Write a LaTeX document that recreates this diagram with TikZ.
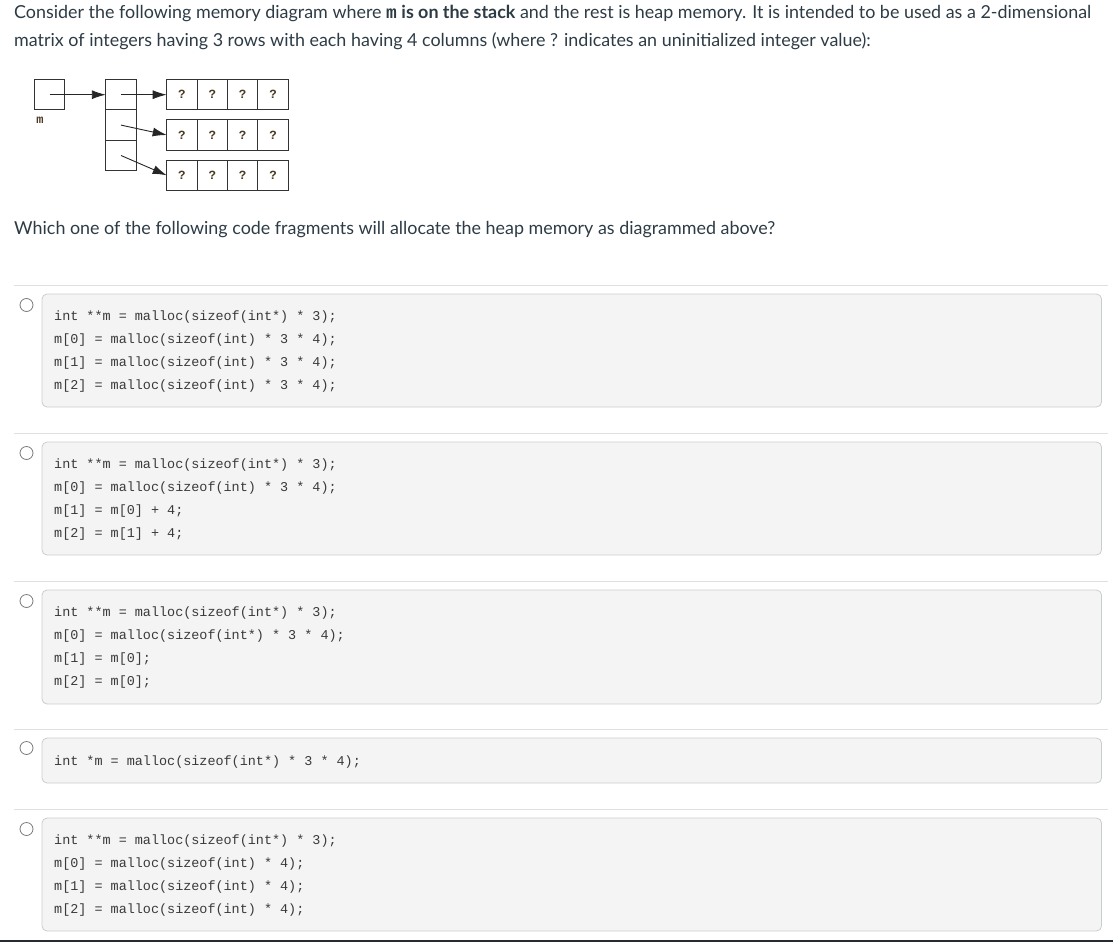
\documentclass[tikz,border=0pt]{standalone}
\usepackage{fontspec}
\setmainfont{Lato}
\setmonofont{Liberation Mono}
\usetikzlibrary{arrows.meta}

\definecolor{canvastext}{HTML}{2D3B45}
\definecolor{codetext}{HTML}{3A3A3A}
\definecolor{codefill}{HTML}{F4F4F4}
\definecolor{codeline}{HTML}{C7CDD1}
\definecolor{sepline}{HTML}{E0E0E0}
\definecolor{radioline}{HTML}{7A7A7A}
\definecolor{barcolor}{HTML}{262A33}
\definecolor{qmark}{HTML}{4A3A22}

\tikzset{
  question/.style={anchor=base west, inner sep=0, text=canvastext, font=\fontsize{17.9}{20}\selectfont},
  code/.style={anchor=base west, inner sep=0, align=left, text=codetext, font=\fontsize{13.45}{23}\selectfont\ttfamily},
  codebox/.style={draw=codeline, fill=codefill, rounded corners=5pt, line width=0.8pt},
  divider/.style={draw=sepline, line width=1pt},
  radio/.style={draw=radioline, line width=0.8pt, fill=white},
  cell/.style={draw=black!80, line width=0.9pt, minimum width=30.4pt, minimum height=30.4pt, inner sep=0, outer sep=0, text=qmark, font=\ttfamily\bfseries\fontsize{12.5}{12.5}\selectfont},
  ptr/.style={-{Latex[length=14pt,width=9pt]}, line width=0.9pt, black!85},
}

\begin{document}
\begin{tikzpicture}[x=1pt, y=-1pt]
  \useasboundingbox (0,0) rectangle (1113,942);

  % 题干
  \node[question] (q1) at (14,19) {Consider the following memory diagram where {\ttfamily\bfseries m} {\bfseries is on the stack} and the rest is heap memory. It is intended to be used as a 2-dimensional};
  \node[question] (q2) at (14,47) {matrix of integers having 3 rows with each having 4 columns (where ? indicates an uninitialized integer value):};

  % 内存图
  \node[cell] (m) at (49.5,94.7) {};
  \node[inner sep=0, text=qmark, font=\ttfamily\bfseries\fontsize{12}{12}\selectfont] (mlabel) at (40,120) {m};
  \foreach \i/\y in {0/94.7,1/125.1,2/155.5}
    \node[cell] (p\i) at (121,\y) {};
  \foreach \i/\y in {0/94.7,1/135,2/175.3}
    \foreach \j in {0,...,3}
      \node[cell] (r\i\j) at ({181.9+30.4*\j},\y) {?};
  \draw[ptr] (m.center) -- (p0.west);
  \foreach \i in {0,1,2}
    \draw[ptr] (p\i.center) -- (r\i0.west);

  \node[question] (q3) at (14,234) {Which one of the following code fragments will allocate the heap memory as diagrammed above?};

  % 选项 1（多行代码的 base 在最后一行）
  \draw[divider] (14,285) -- (1108,285);
  \draw[radio] (26.5,305) circle (6.5);
  \draw[codebox] (42,294) rectangle (1101.5,407);
  \node[code] (c1) at (54,389.5) {int **m = malloc(sizeof(int*) * 3);\\
    m[0] = malloc(sizeof(int) * 3 * 4);\\
    m[1] = malloc(sizeof(int) * 3 * 4);\\
    m[2] = malloc(sizeof(int) * 3 * 4);};

  % 选项 2
  \draw[divider] (14,433) -- (1108,433);
  \draw[radio] (26.5,453) circle (6.5);
  \draw[codebox] (42,442) rectangle (1101.5,555);
  \node[code] (c2) at (54,537.5) {int **m = malloc(sizeof(int*) * 3);\\
    m[0] = malloc(sizeof(int) * 3 * 4);\\
    m[1] = m[0] + 4;\\
    m[2] = m[1] + 4;};

  % 选项 3
  \draw[divider] (14,581) -- (1108,581);
  \draw[radio] (26.5,601) circle (6.5);
  \draw[codebox] (42,590) rectangle (1101.5,704);
  \node[code] (c3) at (54,685.5) {int **m = malloc(sizeof(int*) * 3);\\
    m[0] = malloc(sizeof(int*) * 3 * 4);\\
    m[1] = m[0];\\
    m[2] = m[0];};

  % 选项 4
  \draw[divider] (14,729) -- (1108,729);
  \draw[radio] (26.5,748) circle (6.5);
  \draw[codebox] (42,738) rectangle (1101.5,783);
  \node[code] (c4) at (54,765) {int *m = malloc(sizeof(int*) * 3 * 4);};

  % 选项 5
  \draw[divider] (14,809) -- (1108,809);
  \draw[radio] (26.5,829) circle (6.5);
  \draw[codebox] (42,818) rectangle (1101.5,931);
  \node[code] (c5) at (54,913.5) {int **m = malloc(sizeof(int*) * 3);\\
    m[0] = malloc(sizeof(int) * 4);\\
    m[1] = malloc(sizeof(int) * 4);\\
    m[2] = malloc(sizeof(int) * 4);};

  \fill[barcolor] (0,940) rectangle (1113,942);
\end{tikzpicture}
\end{document}
